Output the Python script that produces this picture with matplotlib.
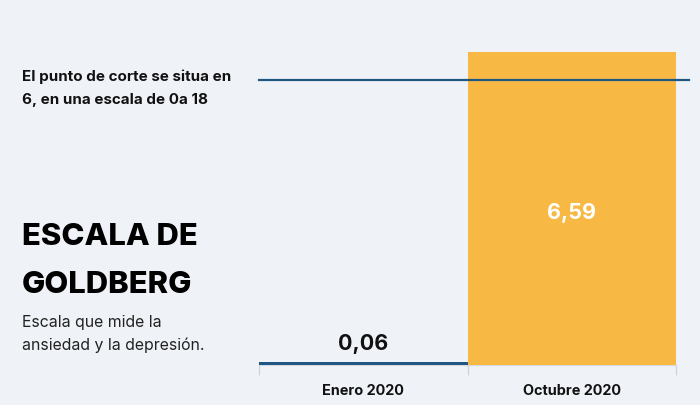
import numpy as np
import matplotlib
matplotlib.use("Agg")
import matplotlib.pyplot as plt
from matplotlib.ticker import FixedLocator

categories = ["Enero 2020", "Octubre 2020"]
values = [0.06, 6.59]
value_labels = ["0,06", "6,59"]
cutoff = 6

BG = "#eff3f7"
BLUE = "#1f5682"
ORANGE = "#f7b844"
FONT = "Inter"

W, H = 700, 405
fig = plt.figure(figsize=(W / 100, H / 100), dpi=100, facecolor=BG)

ax_left, ax_right, ax_bottom, ax_top = 259, 676, 365, 52
ax = fig.add_axes([ax_left / W, 1 - ax_bottom / H, (ax_right - ax_left) / W, (ax_bottom - ax_top) / H])
ax.set_facecolor(BG)

x = np.arange(len(categories)) + 0.5
colors = [BLUE, ORANGE]
ax.bar(x, values, width=1.0, color=colors, linewidth=0, zorder=2)
ax.set_xlim(0, len(categories))
ax.set_ylim(0, max(values))

# cut-off rule
ax.axhline(cutoff, xmin=0, xmax=(689 - ax_left) / (ax_right - ax_left), color=BLUE,
           linewidth=1.6, clip_on=False, zorder=3)

for s in ["top", "right", "left"]:
    ax.spines[s].set_visible(False)
ax.spines["bottom"].set_color("#d6dbe0")
ax.spines["bottom"].set_linewidth(1)
ax.spines["bottom"].set_zorder(1)
ax.set_yticks([])
ax.set_xticks(x)
ax.set_xticklabels(categories, fontfamily=FONT, fontweight="bold", fontsize=10.4, color="#111111")
ax.tick_params(axis="x", which="major", length=0, pad=14)
ax.xaxis.set_minor_locator(FixedLocator(np.arange(len(categories) + 1)))
ax.tick_params(axis="x", which="minor", length=7, color="#d0d5da", width=1)

# value labels
ax.annotate(value_labels[0], (x[0], values[0]), xytext=(0, 6), textcoords="offset points",
            ha="center", va="bottom", fontfamily=FONT, fontweight="bold", fontsize=15.5,
            color="#111111")
ax.annotate(value_labels[1], (x[1], values[1] / 2), xytext=(0, -3), textcoords="offset points",
            ha="center", va="center", fontfamily=FONT, fontweight="bold", fontsize=15.5,
            color="white")

# left-side texts
fig.text(22 / W, 1 - 77 / H, "El punto de corte se situa en", fontfamily=FONT, fontweight="bold",
         fontsize=10.9, color="#111111", va="center")
fig.text(22 / W, 1 - 100 / H, "6, en una escala de 0a 18", fontfamily=FONT, fontweight="bold",
         fontsize=10.9, color="#111111", va="center")
fig.text(22 / W, 1 - 237 / H, "ESCALA DE", fontfamily=FONT, fontweight="heavy",
         fontsize=22.3, color="#000000", va="center")
fig.text(22 / W, 1 - 285 / H, "GOLDBERG", fontfamily=FONT, fontweight="heavy",
         fontsize=22.3, color="#000000", va="center")
fig.text(22 / W, 1 - 322 / H, "Escala que mide la", fontfamily=FONT,
         fontsize=11.4, color="#222222", va="center")
fig.text(22 / W, 1 - 345 / H, "ansiedad y la depresión.", fontfamily=FONT,
         fontsize=11.4, color="#222222", va="center")

fig.savefig("out.png", dpi=100, facecolor=BG)
